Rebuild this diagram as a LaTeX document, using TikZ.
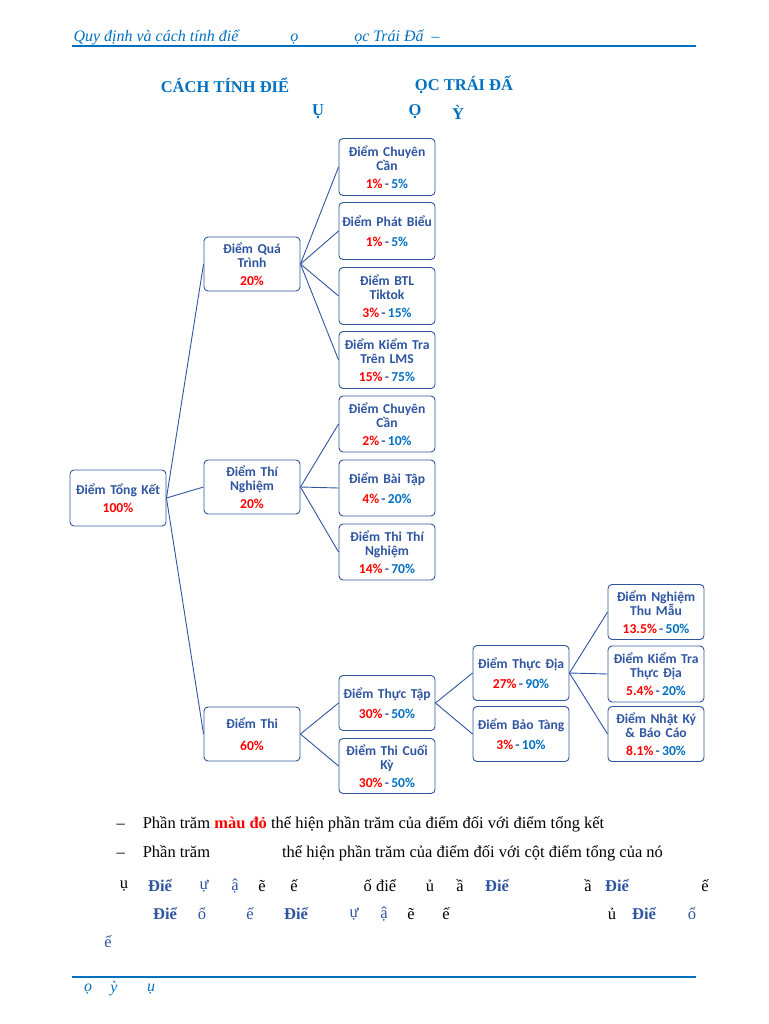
\documentclass[tikz,border=0pt]{standalone}
\usepackage{fontspec}
\setmainfont{Liberation Serif}
\newfontfamily\carlfont{Carlito}
\definecolor{bx}{HTML}{2F55A0}
\definecolor{bl}{HTML}{0070C0}
\definecolor{rd}{HTML}{FF0000}
\newcommand{\pc}[2]{{\color{rd}#1}\,-\,{\color{bl}#2}}
\begin{document}
\begin{tikzpicture}[x=1pt,y=-1pt,
 bxs/.style={draw=bx,line width=0.9pt,rounded corners=4pt,minimum width=96pt,text width=94pt,align=center,inner sep=1pt,font=\carlfont\fontsize{13.6}{14}\selectfont\bfseries,text=bx},
 ln/.style={draw=bx,line width=0.9pt},
 tx/.style={font=\fontsize{16.5}{18}\selectfont},
 bt/.style={text=bx,font=\bfseries\fontsize{16.5}{18}\selectfont}]
\useasboundingbox (0,0) rectangle (768,1024);
% header
\node[anchor=west,font=\itshape\fontsize{16}{18}\selectfont,text=bl] (h) at (70,37) {Quy định và cách tính điể\hspace{52pt}ọ\hspace{56pt}ọc Trái Đấ\ \ –};
\draw[draw=bl,line width=1.2pt] (72,46) -- (696,46);
\node[font=\bfseries\fontsize{16.5}{18}\selectfont,text=bl] (t1) at (225,85) {CÁCH TÍNH ĐIỂ};
\node[font=\bfseries\fontsize{16.5}{18}\selectfont,text=bl] (t2) at (464,85) {ỌC TRÁI ĐẤ};
\node[font=\bfseries\fontsize{16.5}{18}\selectfont,text=bl] (t3) at (318,112) {Ụ};
\node[font=\bfseries\fontsize{16.5}{18}\selectfont,text=bl] (t4) at (415,112) {Ọ};
\node[font=\bfseries\fontsize{16.5}{18}\selectfont,text=bl] (t5) at (458,112) {Ỳ};
% boxes
\node[bxs,minimum height=56pt] (tk) at (118,498) {Điểm Tổng Kết\\[4pt]{\color{rd}100\%}};
\node[bxs,minimum height=54pt] (qt) at (252,264) {Điểm Quá\\Trình\\[4pt]{\color{rd}20\%}};
\node[bxs,minimum height=54pt] (tn) at (252,487) {Điểm Thí\\Nghiệm\\[4pt]{\color{rd}20\%}};
\node[bxs,minimum height=54pt] (th) at (252,734) {Điểm Thi\\[8pt]{\color{rd}60\%}};
\node[bxs,minimum height=57pt] (a1) at (387,167) {Điểm Chuyên\\Cần\\[4pt]\pc{1\%}{5\%}};
\node[bxs,minimum height=57pt] (a2) at (387,231) {Điểm Phát Biểu\\[6pt]\pc{1\%}{5\%}};
\node[bxs,minimum height=57pt] (a3) at (387,296) {Điểm BTL\\Tiktok\\[4pt]\pc{3\%}{15\%}};
\node[bxs,minimum height=57pt] (a4) at (387,360) {Điểm Kiểm Tra\\Trên LMS\\[4pt]\pc{15\%}{75\%}};
\node[bxs,minimum height=56pt] (b1) at (387,424) {Điểm Chuyên\\Cần\\[4pt]\pc{2\%}{10\%}};
\node[bxs,minimum height=56pt] (b2) at (387,488) {Điểm Bài Tập\\[6pt]\pc{4\%}{20\%}};
\node[bxs,minimum height=56pt] (b3) at (387,552) {Điểm Thi Thí\\Nghiệm\\[4pt]\pc{14\%}{70\%}};
\node[bxs,minimum height=55pt] (c1) at (387,703) {Điểm Thực Tập\\[6pt]\pc{30\%}{50\%}};
\node[bxs,minimum height=55pt] (c2) at (387,766) {Điểm Thi Cuối\\Kỳ\\[4pt]\pc{30\%}{50\%}};
\node[bxs,minimum height=55pt] (d1) at (521,673) {Điểm Thực Địa\\[6pt]\pc{27\%}{90\%}};
\node[bxs,minimum height=55pt] (d2) at (521,734) {Điểm Bảo Tàng\\[6pt]\pc{3\%}{10\%}};
\node[bxs,minimum height=55pt] (e1) at (656,612) {Điểm Nghiệm\\Thu Mẫu\\[4pt]\pc{13.5\%}{50\%}};
\node[bxs,minimum height=56pt] (e2) at (656,674) {Điểm Kiểm Tra\\Thực Địa\\[4pt]\pc{5.4\%}{20\%}};
\node[bxs,minimum height=55pt] (e3) at (656,734) {Điểm Nhật Ký\\\& Báo Cáo\\[4pt]\pc{8.1\%}{30\%}};
% connectors
\foreach \p/\c in {tk/qt,tk/tn,tk/th,qt/a1,qt/a2,qt/a3,qt/a4,tn/b1,tn/b2,tn/b3,th/c1,th/c2,c1/d1,c1/d2,d1/e1,d1/e2,d1/e3}
  \draw[ln] (\p.east) -- (\c.west);
% notes
\node[anchor=west,tx] (n1) at (113,824) {–\hspace{18pt}Phần trăm {\color{rd}\bfseries màu đỏ} thể hiện phần trăm của điểm đối với điểm tổng kết};
\node[anchor=west,tx] (n2) at (113,853) {–\hspace{18pt}Phần trăm\hspace{72pt}thể hiện phần trăm của điểm đối với cột điểm tổng của nó};
\begin{scope}[every node/.style={tx}]
\node at (124,886) {ụ};
\node[bt] at (160,886) {Điể};
\node[text=bx] at (204,886) {ự};
\node[text=bx] at (235,886) {ậ};
\node at (262,886) {ẽ};
\node at (294,886) {ế};
\node at (380,886) {ố điể};
\node at (430,886) {ủ};
\node at (460,886) {ầ};
\node[bt] at (497,886) {Điể};
\node at (588,886) {ầ};
\node[bt] at (617,886) {Điể};
\node at (705,886) {ế};
\node[bt] at (165,914) {Điể};
\node[text=bx] at (202,914) {ổ};
\node[text=bx] at (250,914) {ế};
\node[bt] at (296,914) {Điể};
\node[text=bx] at (354,914) {ự};
\node[text=bx] at (384,914) {ậ};
\node at (411,914) {ẽ};
\node at (446,914) {ế};
\node at (612,914) {ủ};
\node[bt] at (644,914) {Điể};
\node[text=bx] at (692,914) {ổ};
\node[text=bx] at (108,942) {ế};
\end{scope}
\draw[draw=bl,line width=1.2pt] (72,977) -- (696,977);
\node[font=\itshape\fontsize{16}{18}\selectfont,text=bl] (f1) at (88,989) {ọ};
\node[font=\itshape\fontsize{16}{18}\selectfont,text=bl] (f2) at (114,989) {ỳ};
\node[font=\itshape\fontsize{16}{18}\selectfont,text=bl] (f3) at (151,989) {ụ};
\end{tikzpicture}
\end{document}
